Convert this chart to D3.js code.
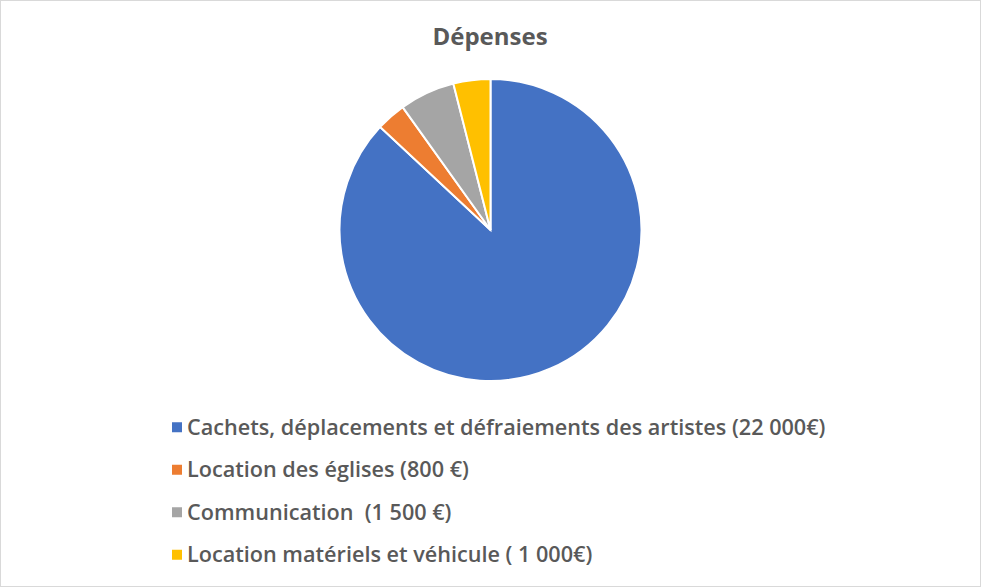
<!DOCTYPE html>
<html>
<head>
<meta charset="utf-8">
<script src="https://cdn.jsdelivr.net/npm/d3@7"></script>
<style>
  body { margin: 0; background: #fff; }
  svg { display: block; font-family: "Segoe UI", "Open Sans", sans-serif; }
</style>
</head>
<body>
<svg id="chart" width="981" height="587"></svg>
<script>
// DATA
var categories = [
    'Cachets, déplacements et défraiements des artistes (22 000€)',
    'Location des églises (800 €)',
    'Communication  (1 500 €)',
    'Location matériels et véhicule ( 1 000€)'
];
var values = [22000, 800, 1500, 1000];
var colors = ['#4472c4', '#ed7d31', '#a5a5a5', '#ffc000'];
var title = 'Dépenses';

var svg = d3.select('#chart');

// outer border
svg.append('rect')
    .attr('x', 0.5).attr('y', 0.5)
    .attr('width', 980).attr('height', 586)
    .attr('fill', '#fff')
    .attr('stroke', '#d9d9d9');

svg.append('text')
    .attr('x', 490).attr('y', 45)
    .attr('text-anchor', 'middle')
    .attr('font-size', 24)
    .attr('font-weight', 'bold')
    .attr('fill', '#595959')
    .text(title);

// pie
var cx = 490.5, cy = 230, r = 151;
var pie = d3.pie().sort(null).value(function(d){ return d; });
var arc = d3.arc().innerRadius(0).outerRadius(r);

var g = svg.append('g').attr('transform', 'translate(' + cx + ',' + cy + ')');
g.selectAll('path')
    .data(pie(values))
    .enter().append('path')
    .attr('d', arc)
    .attr('fill', function(d, i){ return colors[i]; })
    .attr('stroke', '#fff')
    .attr('stroke-width', 2);

// legend
var legendY = d3.scaleBand()
    .domain(d3.range(categories.length))
    .range([406, 576]);

var items = svg.selectAll('.leg')
    .data(categories)
    .enter().append('g')
    .attr('class', 'leg')
    .attr('transform', function(d, i){ return 'translate(172,' + (legendY(i) + legendY.bandwidth() / 2) + ')'; });

items.append('rect')
    .attr('x', 0).attr('y', -5)
    .attr('width', 10).attr('height', 10)
    .attr('fill', function(d, i){ return colors[i]; });

items.append('text')
    .attr('x', 15).attr('y', 0)
    .attr('dy', '0.35em')
    .attr('font-size', 20)
    .attr('font-weight', 600)
    .attr('fill', '#595959')
    .style('white-space', 'pre')
    .text(function(d){ return d; });

// squeeze first label to reference width (~639px) if font runs wide
var first = items.select('text').node();
var w = first.getComputedTextLength();
var scale = 639 / w;
items.selectAll('text').attr('font-size', 20 * scale);
</script>
</body>
</html>
